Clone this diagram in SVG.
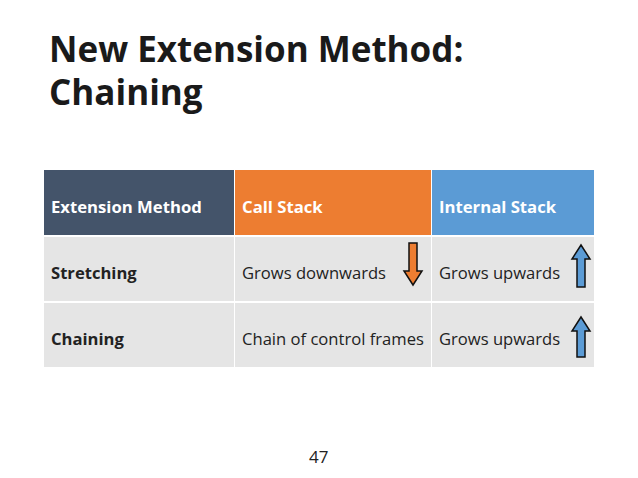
<svg xmlns="http://www.w3.org/2000/svg" width="638" height="478" viewBox="0 0 638 478">
<style>
text{font-family:"Open Sans","Noto Sans",sans-serif;}
.t{font-size:35px;font-weight:bold;fill:#1a1a1a}
.h{font-size:16.7px;font-weight:bold;fill:#fff}
.c{font-size:16.6px;fill:#222}
.b{font-weight:bold}
.cell{fill:#e5e5e5}
.arr{stroke:#111;stroke-width:1.5;stroke-linejoin:miter}
</style>
<rect width="638" height="478" fill="#fff"/>
<text class="t" x="49" y="62">New Extension Method:</text>
<text class="t" x="49" y="105">Chaining</text>
<g id="header">
<rect x="44" y="170" width="190" height="65" fill="#44546a"/>
<rect x="235" y="170" width="196" height="65" fill="#ed7d31"/>
<rect x="432" y="170" width="162" height="65" fill="#5b9bd5"/>
<text class="h" x="51" y="213">Extension Method</text>
<text class="h" x="242" y="213">Call Stack</text>
<text class="h" x="439" y="213">Internal Stack</text>
</g>
<g id="row1">
<rect class="cell" x="44" y="237" width="190" height="64"/>
<rect class="cell" x="235" y="237" width="196" height="64"/>
<rect class="cell" x="432" y="237" width="162" height="64"/>
<text class="c b" x="51" y="279">Stretching</text>
<text class="c" x="242" y="279">Grows downwards</text>
<text class="c" x="439" y="279">Grows upwards</text>
<polygon class="arr" fill="#ed7d31" points="409,243 417,243 417,271 422,271 413,285 404,271 409,271"/>
<polygon class="arr" fill="#5b9bd5" points="577,287 585,287 585,259 590,259 581,245 572,259 577,259"/>
</g>
<g id="row2">
<rect class="cell" x="44" y="303" width="190" height="64"/>
<rect class="cell" x="235" y="303" width="196" height="64"/>
<rect class="cell" x="432" y="303" width="162" height="64"/>
<text class="c b" x="51" y="345">Chaining</text>
<text class="c" x="242" y="345">Chain of control frames</text>
<text class="c" x="439" y="345">Grows upwards</text>
<polygon class="arr" fill="#5b9bd5" points="577,357 585,357 585,331 590,331 581,317 572,331 577,331"/>
</g>
<text class="c" x="309" y="463" style="font-size:17px">47</text>
</svg>
